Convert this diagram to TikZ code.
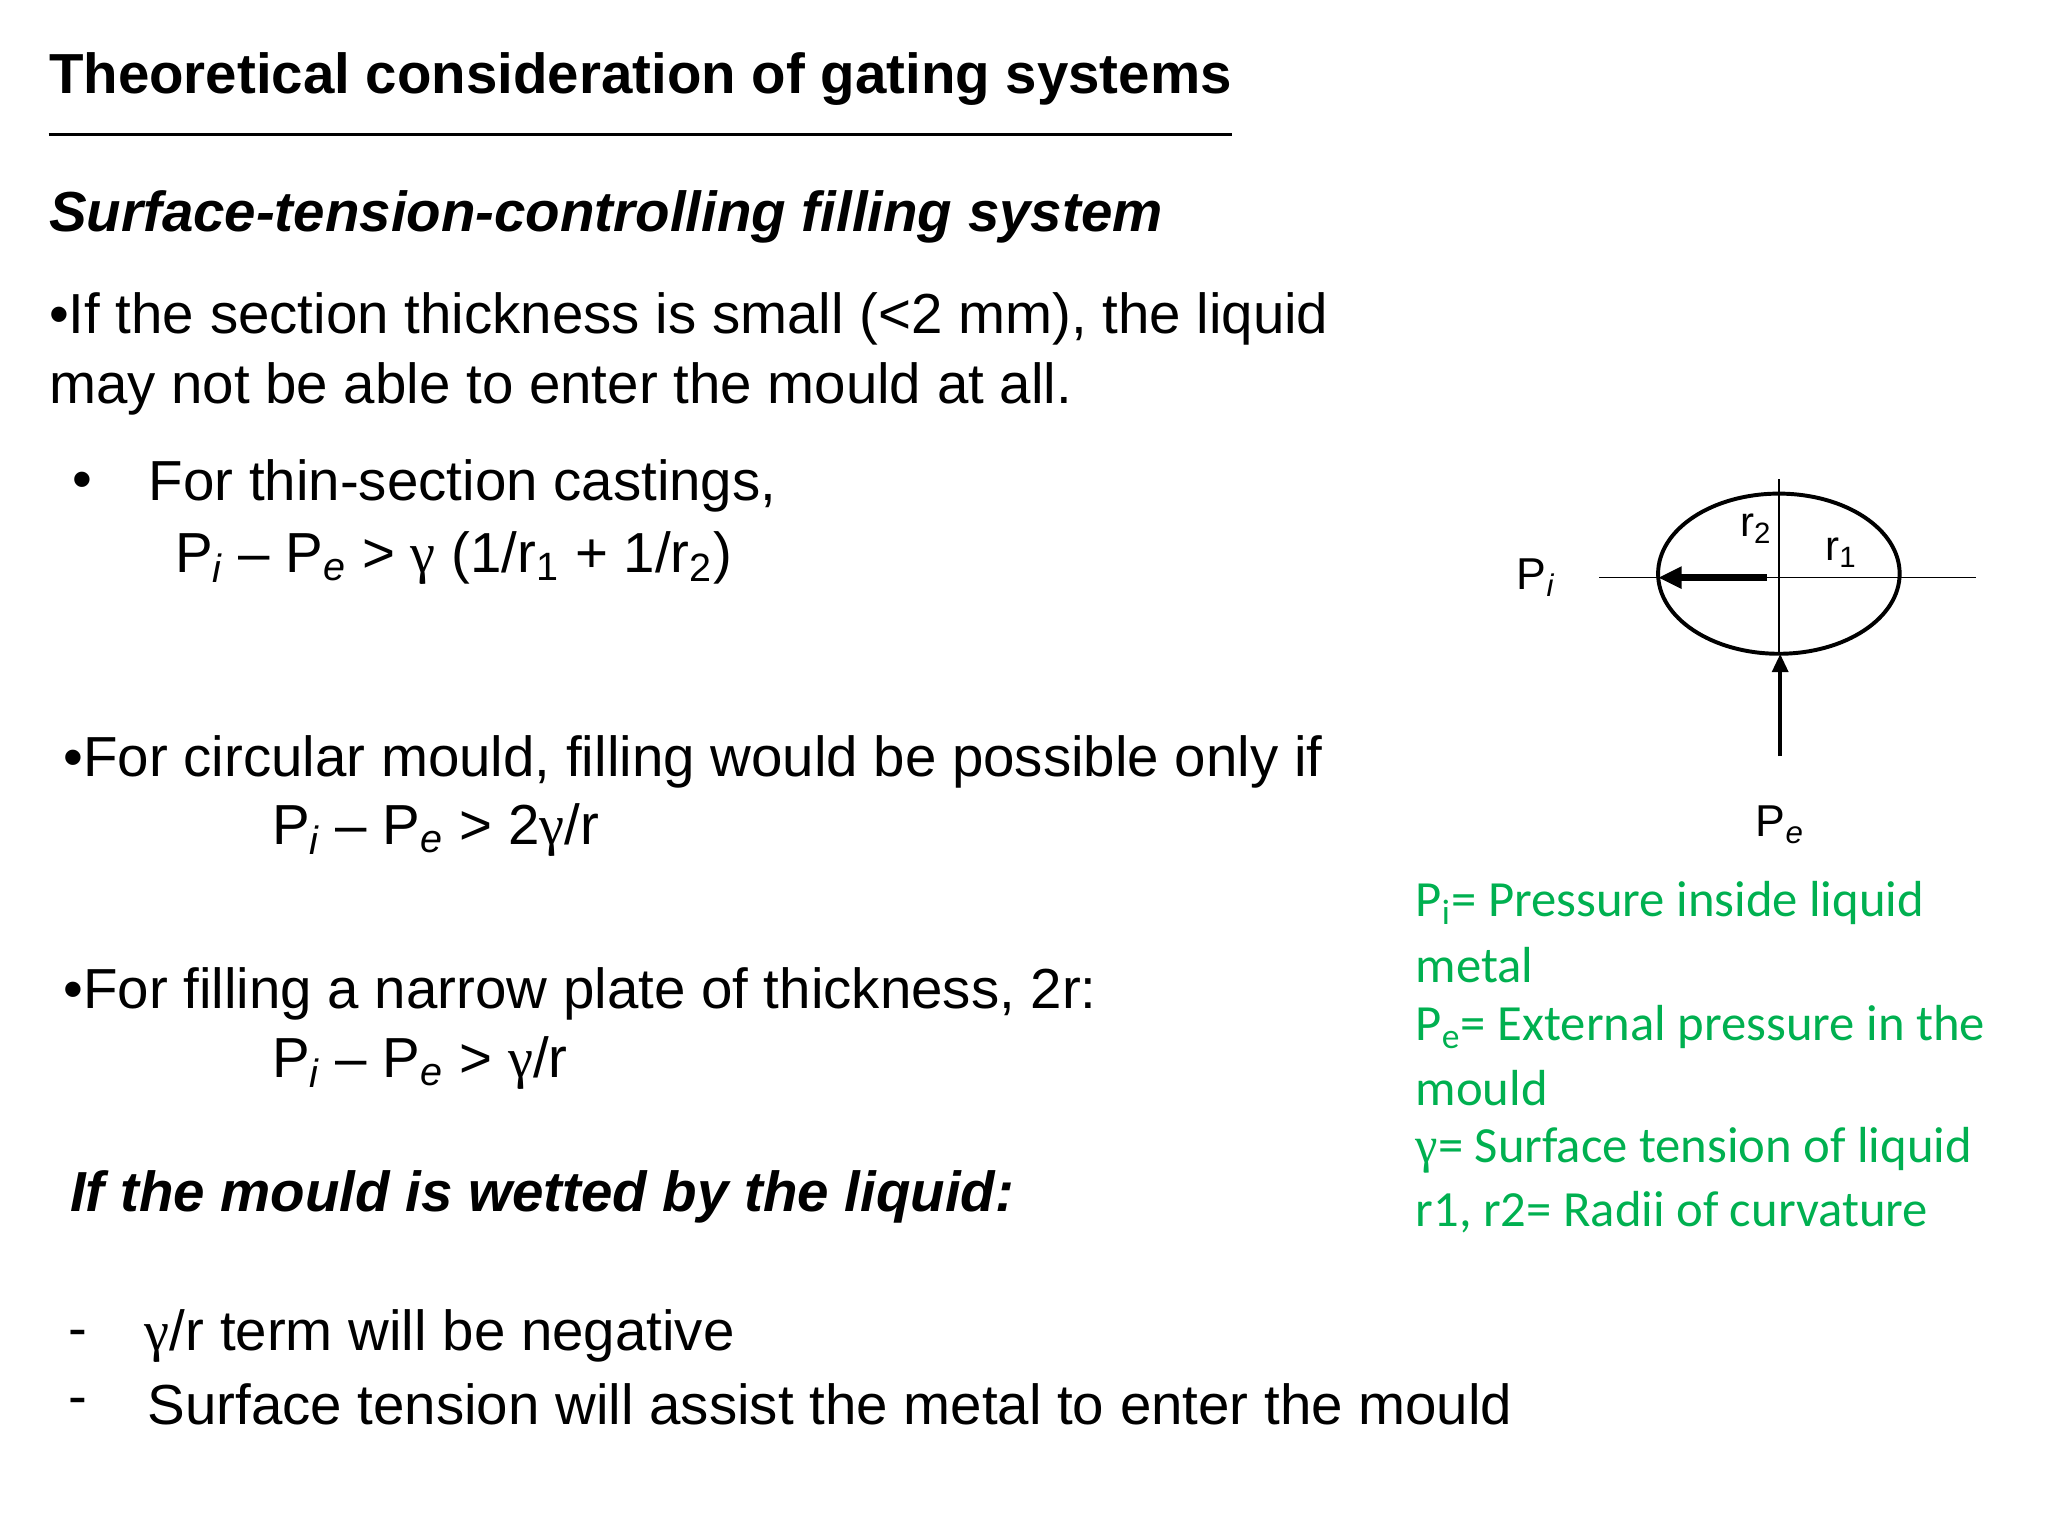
\documentclass[tikz,border=0pt]{standalone}
\usepackage{fontspec}
\setmainfont{Liberation Sans}
\newfontfamily\carlitofont{Carlito}
\newfontfamily\serifg{Liberation Serif}
\usetikzlibrary{arrows.meta,shapes.geometric}
\definecolor{gr}{RGB}{0,176,80}
\newcommand{\sbi}[1]{\textsubscript{\itshape #1}}
\newcommand{\sbn}[1]{\textsubscript{#1}}
\newcommand{\gm}{{\serifg γ}}
\begin{document}
\begin{tikzpicture}[x=0.5pt,y=-0.5pt,
  t/.style={anchor=west,inner sep=0pt,font=\fontsize{21.5}{26}\selectfont},
  g/.style={anchor=west,inner sep=0pt,font=\carlitofont\fontsize{19.3}{23}\selectfont,text=gr}]
\useasboundingbox (0,0) rectangle (1560,1170);
\node[t,font=\bfseries\fontsize{21.5}{26}\selectfont] (title) at (37,60) {Theoretical consideration of gating systems};
\draw[line width=1.3pt] ([yshift=-11pt]title.south west) -- ([yshift=-11pt]title.south east);
\node[t,font=\bfseries\itshape\fontsize{21.5}{26}\selectfont] (sub) at (37,165) {Surface-tension-controlling filling system};
\node[t] (l1) at (37,243) {•If the section thickness is small (<2 mm), the liquid};
\node[t] (l2) at (37,296) {may not be able to enter the mould at all.};
\node[t] (b1) at (55,370) {•};
\node[t] (l3) at (113,370) {For thin-section castings,};
\node[t] (f1) at (133,425) {P\sbi{i} – P\sbi{e} > \gm{} (1/r\sbn{1} + 1/r\sbn{2})};
\node[t] (l4) at (48,580) {•For circular mould, filling would be possible only if};
\node[t] (f2) at (207,632) {P\sbi{i} – P\sbi{e} > 2\gm/r};
\node[t] (l5) at (48,757) {•For filling a narrow plate of thickness, 2r:};
\node[t] (f3) at (207,810) {P\sbi{i} – P\sbi{e} > \gm/r};
\node[t,font=\bfseries\itshape\fontsize{21.5}{26}\selectfont] (w) at (53,912) {If the mould is wetted by the liquid:};
\node[t] (d1) at (52,1020) {-};
\node[t] (l6) at (110,1018) {\gm/r term will be negative};
\node[t] (d2) at (52,1072) {-};
\node[t] (l7) at (112,1070) {Surface tension will assist the metal to enter the mould};
% diagram
\node[draw,line width=1.5pt,ellipse,minimum width=92pt,minimum height=61pt,inner sep=0pt] (el) at (1355,437) {};
\coordinate (hl) at (1218,440); \coordinate (hr) at (1505,440);
\coordinate (vt) at (1355,365); \coordinate (vb) at (1355,497);
\draw[line width=0.6pt] (hl) -- (hr);
\draw[line width=0.6pt] (vt) -- (vb);
\coordinate (a1) at (1346,440); \coordinate (a2) at (1263,440);
\draw[line width=2.5pt,-{Triangle[length=9pt,width=8pt]}] (a1) -- (a2);
\coordinate (b1s) at (1356,576); \coordinate (b1e) at (1356,498);
\draw[line width=1.6pt,-{Triangle[length=7pt,width=6pt]}] (b1s) -- (b1e);
\node[t,font=\fontsize{16}{19}\selectfont] (r2) at (1325,403) {r\sbn{2}};
\node[t,font=\fontsize{16}{19}\selectfont] (r1) at (1390,421) {r\sbn{1}};
\node[t,font=\fontsize{17}{20}\selectfont] (pi) at (1155,440) {P\sbi{i}};
\node[t,font=\fontsize{17}{20}\selectfont] (pe) at (1337,628) {P\sbi{e}};
\node[g] (g1) at (1078,688) {P\textsubscript{i}= Pressure inside liquid};
\node[g] (g2) at (1078,735) {metal};
\node[g] (g3) at (1078,782) {P\textsubscript{e}= External pressure in the};
\node[g] (g4) at (1078,829) {mould};
\node[g] (g5) at (1078,876) {\gm= Surface tension of liquid};
\node[g] (g6) at (1078,923) {r1, r2= Radii of curvature};
\end{tikzpicture}
\end{document}
